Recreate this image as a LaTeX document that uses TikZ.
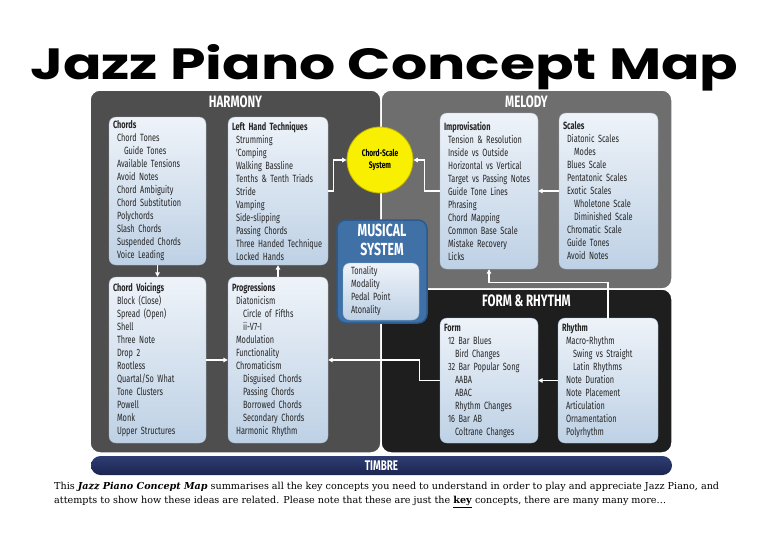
\documentclass[tikz,border=0pt]{standalone}
\usepackage{fontspec}
\usepackage{graphicx}
\usepackage{tikz}
\usetikzlibrary{arrows.meta,positioning}
\setmainfont{DejaVu Serif}
\newfontfamily\mapfont[FakeStretch=0.7]{Fira Sans}
\newfontfamily\titlefont{Poppins}
\definecolor{harmonygray}{HTML}{4E4E4E}
\definecolor{melodygray}{HTML}{6E6E6E}
\definecolor{rhythmblack}{HTML}{1E1E1E}
\definecolor{boxtop}{HTML}{EEF3F9}
\definecolor{boxbot}{HTML}{BED1E5}
\definecolor{boxedge}{HTML}{A9BDD1}
\definecolor{systemblue}{HTML}{3F70A6}
\definecolor{systemedge}{HTML}{2C5A8C}
\definecolor{timbretop}{HTML}{2E3D72}
\definecolor{timbrebot}{HTML}{1B2550}
\definecolor{scaleyellow}{HTML}{F8F000}
\definecolor{scaleedge}{HTML}{C2B400}
\newcommand{\hd}[1]{\textbf{#1}}
\newcommand{\ia}[1]{\hspace*{4pt}#1}
\newcommand{\ib}[1]{\hspace*{11pt}#1}

\begin{document}
\begin{tikzpicture}[x=1pt,y=-1pt,
	panel/.style={draw=white, line width=1.5pt, rounded corners=10pt, inner sep=0pt},
	paneltitle/.style={text=white, inner sep=0pt, font=\mapfont\bfseries\fontsize{16.5}{18}\selectfont},
	conceptbox/.style={draw=boxedge, line width=0.4pt, rounded corners=7pt, top color=boxtop, bottom color=boxbot,
		align=left, inner xsep=4pt, inner ysep=0pt, text=black!85, font=\mapfont\fontsize{10.5}{13}\selectfont},
	flow/.style={draw=white, line width=1.1pt, -{Triangle[length=4.5pt,width=4.5pt]}}]
	\fill[white] (0,0) rectangle (768,543);
	\useasboundingbox (0,0) rectangle (768,543);

	% title
	\node[anchor=base west, inner sep=0pt] (title) at (30,79) {\resizebox{708pt}{35pt}{\titlefont\bfseries Jazz Piano Concept Map}};

	% panels
	\node[panel, fill=harmonygray, minimum width=291pt, minimum height=363pt] (harmony) at (235.5,271.5) {};
	\node[panel, fill=melodygray, minimum width=291pt, minimum height=199pt] (melody) at (526.5,189.5) {};
	\node[panel, fill=rhythmblack, minimum width=291pt, minimum height=164pt] (formrhythm) at (526.5,371) {};
	\node[paneltitle, below=6pt of harmony.north] (harmonytitle) {HARMONY};
	\node[paneltitle, below=6pt of melody.north] (melodytitle) {MELODY};
	\node[paneltitle, below=6pt of formrhythm.north] (formrhythmtitle) {FORM \& RHYTHM};

	% harmony
	\node[conceptbox, text width=89pt, minimum height=148pt] (chords) at (157.5,191) {\hd{Chords}\\
		\ia{Chord Tones}\\ \ib{Guide Tones}\\ \ia{Available Tensions}\\ \ia{Avoid Notes}\\ \ia{Chord Ambiguity}\\
		\ia{Chord Substitution}\\ \ia{Polychords}\\ \ia{Slash Chords}\\ \ia{Suspended Chords}\\ \ia{Voice Leading}};
	\node[conceptbox, text width=92pt, minimum height=148pt] (lht) at (278,191) {\hd{Left Hand Techniques}\\
		\ia{Strumming}\\ \ia{'Comping}\\ \ia{Walking Bassline}\\ \ia{Tenths \& Tenth Triads}\\ \ia{Stride}\\
		\ia{Vamping}\\ \ia{Side-slipping}\\ \ia{Passing Chords}\\ \ia{Three Handed Technique}\\ \ia{Locked Hands}};
	\node[conceptbox, text width=89pt, minimum height=166pt] (voicings) at (157.5,360) {\hd{Chord Voicings}\\
		\ia{Block (Close)}\\ \ia{Spread (Open)}\\ \ia{Shell}\\ \ia{Three Note}\\ \ia{Drop 2}\\ \ia{Rootless}\\
		\ia{Quartal/So What}\\ \ia{Tone Clusters}\\ \ia{Powell}\\ \ia{Monk}\\ \ia{Upper Structures}};
	\node[conceptbox, text width=92pt, minimum height=166pt] (progressions) at (278,360) {\hd{Progressions}\\
		\ia{Diatonicism}\\ \ib{Circle of Fifths}\\ \ib{ii-V7-I}\\ \ia{Modulation}\\ \ia{Functionality}\\
		\ia{Chromaticism}\\ \ib{Disguised Chords}\\ \ib{Passing Chords}\\ \ib{Borrowed Chords}\\
		\ib{Secondary Chords}\\ \ia{Harmonic Rhythm}};

	% melody
	\node[conceptbox, text width=90pt, minimum height=156pt] (improvisation) at (489,191) {\hd{Improvisation}\\
		\ia{Tension \& Resolution}\\ \ia{Inside vs Outside}\\ \ia{Horizontal vs Vertical}\\ \ia{Target vs Passing Notes}\\
		\ia{Guide Tone Lines}\\ \ia{Phrasing}\\ \ia{Chord Mapping}\\ \ia{Common Base Scale}\\ \ia{Mistake Recovery}\\ \ia{Licks}};
	\node[conceptbox, text width=91pt, minimum height=156pt] (scales) at (608.5,191) {\hd{Scales}\\
		\ia{Diatonic Scales}\\ \ib{Modes}\\ \ia{Blues Scale}\\ \ia{Pentatonic Scales}\\ \ia{Exotic Scales}\\
		\ib{Wholetone Scale}\\ \ib{Diminished Scale}\\ \ia{Chromatic Scale}\\ \ia{Guide Tones}\\ \ia{Avoid Notes}};

	% form & rhythm
	\node[conceptbox, text width=90pt, minimum height=125pt] (form) at (489,380.5) {\hd{Form}\\
		\ia{12 Bar Blues}\\ \ib{Bird Changes}\\ \ia{32 Bar Popular Song}\\ \ib{AABA}\\ \ib{ABAC}\\
		\ib{Rhythm Changes}\\ \ia{16 Bar AB}\\ \ib{Coltrane Changes}};
	\node[conceptbox, text width=92pt, minimum height=125pt] (rhythm) at (608,380.5) {\hd{Rhythm}\\
		\ia{Macro-Rhythm}\\ \ib{Swing vs Straight}\\ \ib{Latin Rhythms}\\ \ia{Note Duration}\\ \ia{Note Placement}\\
		\ia{Articulation}\\ \ia{Ornamentation}\\ \ia{Polyrhythm}};

	% centre
	\node[circle, draw=scaleedge, line width=0.8pt, fill=scaleyellow, minimum size=66pt, inner sep=0pt, align=center,
		font=\mapfont\bfseries\fontsize{9.5}{11.5}\selectfont] (chordscale) at (380,160) {Chord-Scale\\System};
	\node[draw=systemedge, line width=1.5pt, rounded corners=9pt, fill=systemblue, minimum width=90pt, minimum height=103pt] (system) at (382,271.5) {};
	\node[paneltitle, align=center, font=\mapfont\bfseries\fontsize{17.5}{19}\selectfont, below=5pt of system.north] (systemtitle) {MUSICAL\\SYSTEM};
	\node[conceptbox, text width=68pt, minimum height=57pt] (systemlist) at (381,291.5) {\ia{Tonality}\\ \ia{Modality}\\ \ia{Pedal Point}\\ \ia{Atonality}};

	% timbre
	\node[rounded corners=9.5pt, top color=timbretop, bottom color=timbrebot, minimum width=581pt, minimum height=19pt,
		text=white, font=\mapfont\bfseries\fontsize{14}{16}\selectfont] (timbre) at (381.5,465.5) {TIMBRE};

	% links
	\draw[flow] (chords.south) -- (voicings.north);
	\draw[flow] (progressions.north) -- (lht.south);
	\draw[flow] (voicings.east) -- (progressions.west);
	\draw[flow] (form.west) -- ++(-20,0) |- (progressions.east);
	\draw[flow] (lht.east) -- ++(5,0) |- (chordscale.west);
	\draw[flow] (improvisation.west) -- ++(-15,0) |- (chordscale.east);
	\draw[flow] (scales.west) -- (improvisation.east);
	\draw[flow] (rhythm.west) -- (form.east);
	\draw[flow] (rhythm.north) -- ++(0,-35) -| (improvisation.south);

	% caption
	\node[anchor=north west, inner sep=0pt, align=left, font=\fontsize{9.6}{14}\selectfont] (caption) at (54,482)
		{This \textbf{\textit{Jazz Piano Concept Map}} summarises all the key concepts you need to understand in order to play and appreciate Jazz Piano, and\\
		attempts to show how these ideas are related. Please note that these are just the \underline{\textbf{key}} concepts, there are many many more\ldots};
\end{tikzpicture}
\end{document}
